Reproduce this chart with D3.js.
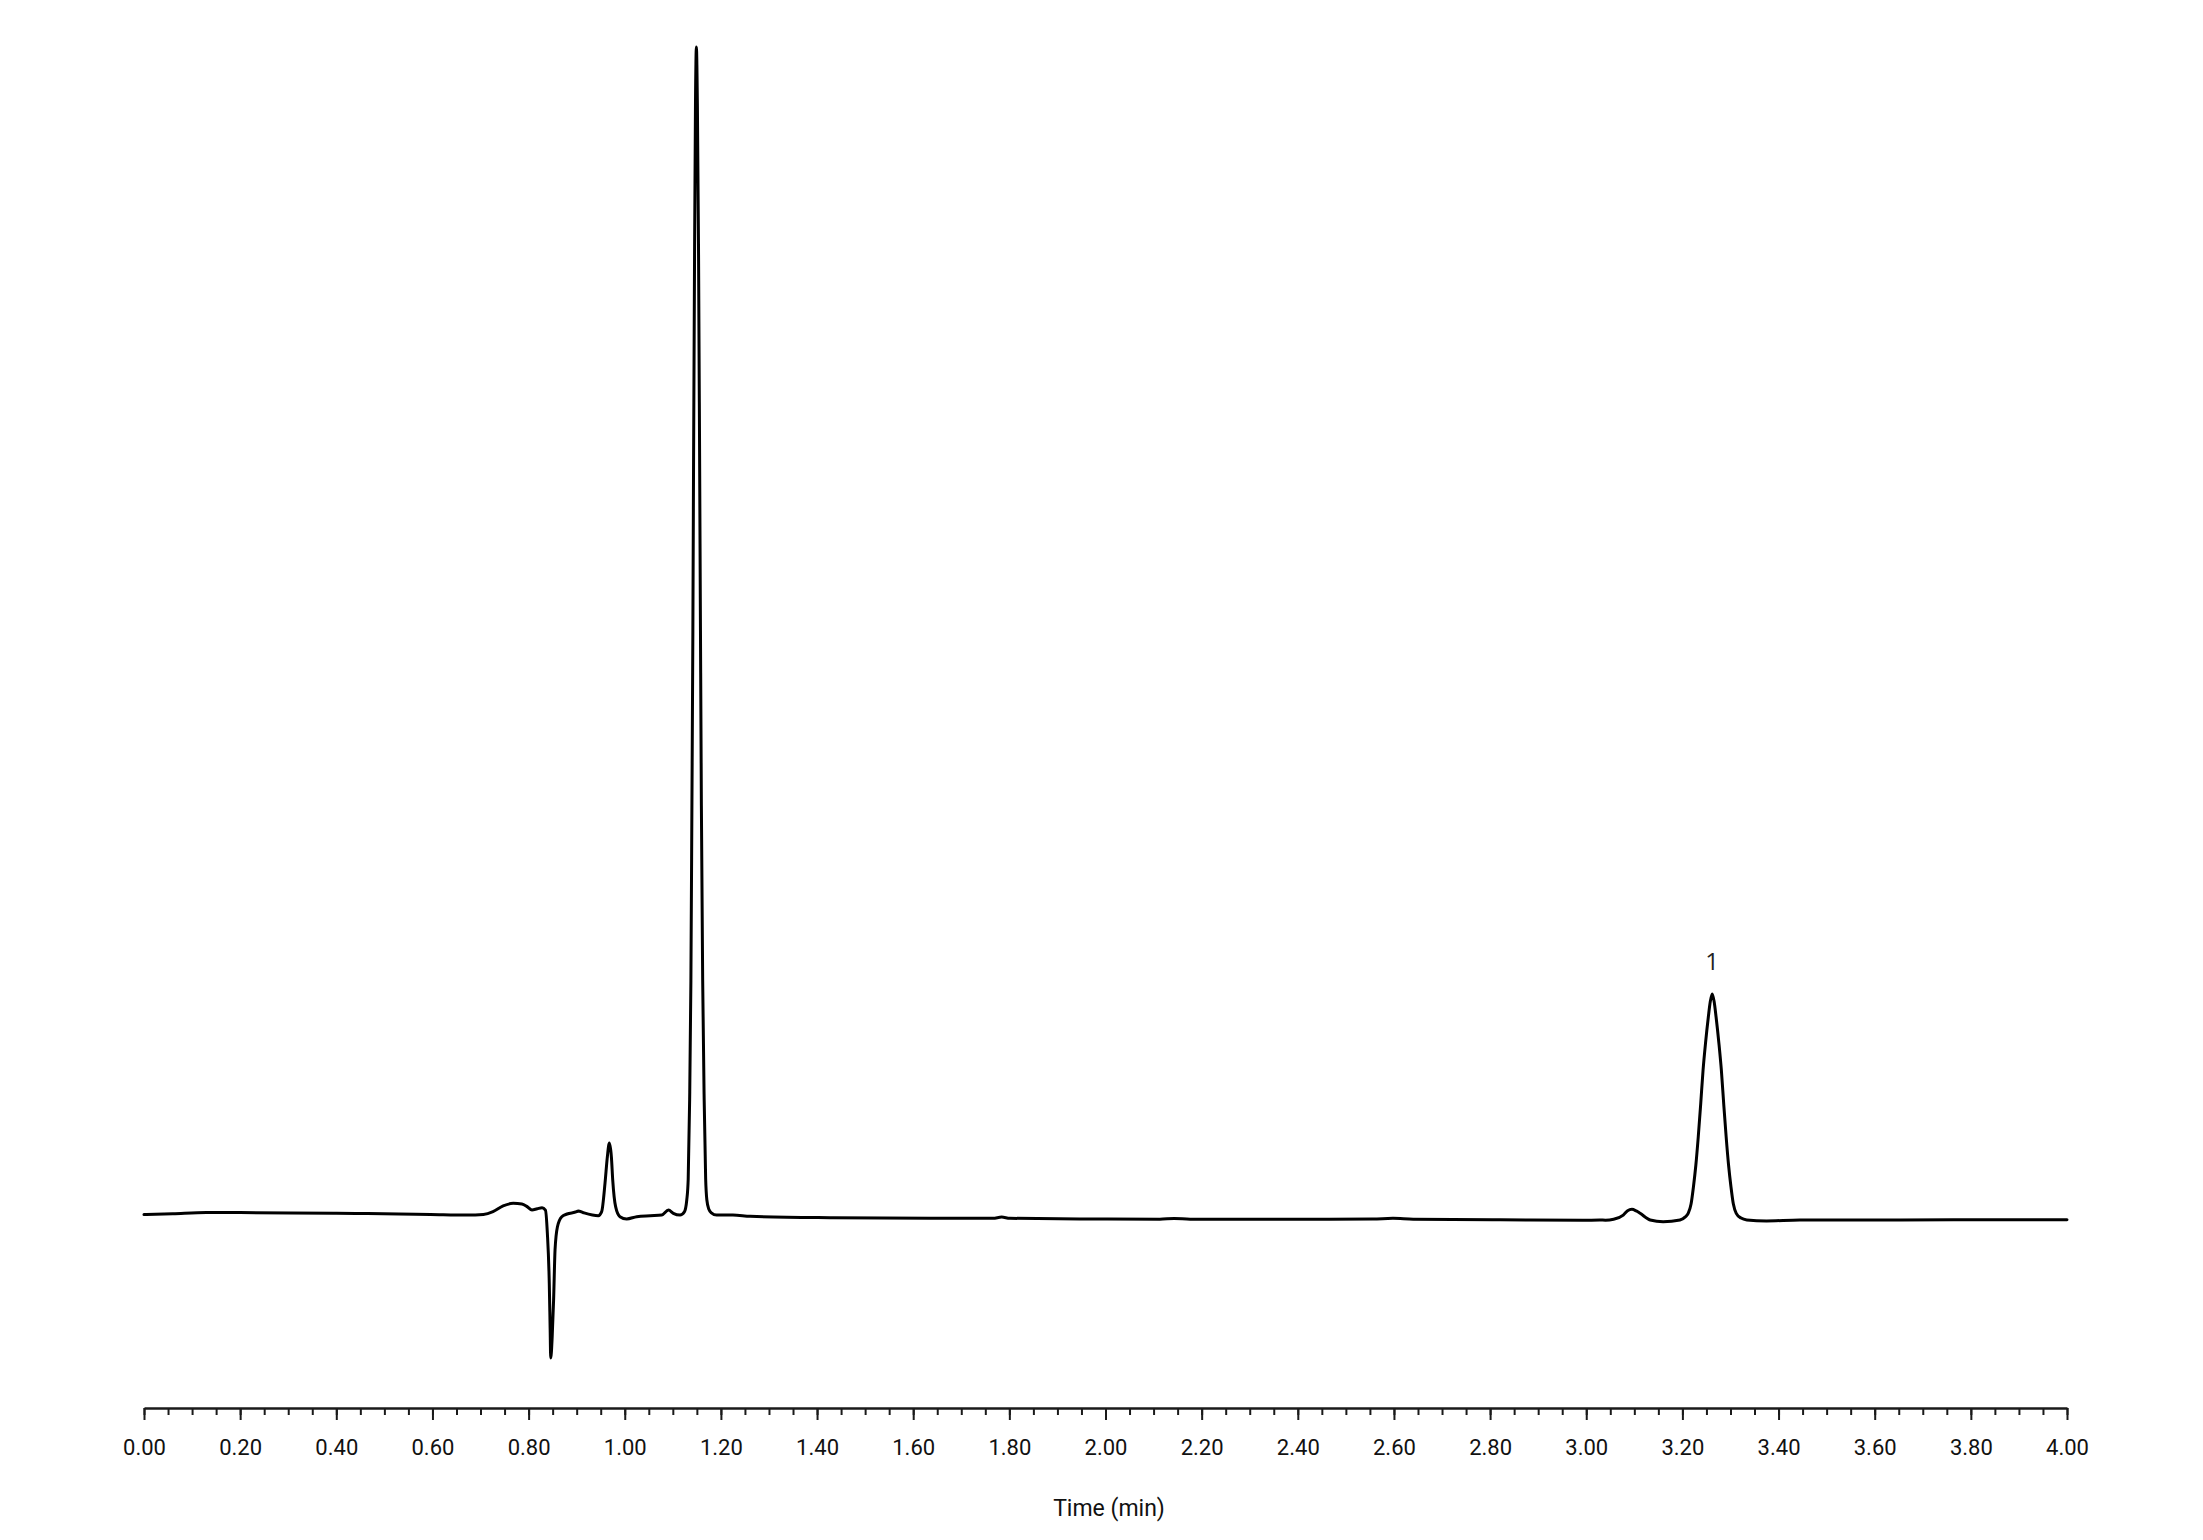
<!DOCTYPE html>
<html>
<head>
<meta charset="utf-8">
<script src="https://cdn.jsdelivr.net/npm/d3@7"></script>
<style>
  html, body { margin: 0; padding: 0; background: #fff; }
  svg { display: block; }
</style>
</head>
<body>
<script>
// ---- Data: [retention time (min), detector signal (relative units)] ----
const baselineStart = [
  [0.000,-0.05],[0.060,0.03],[0.130,0.13],[0.200,0.12],[0.305,0.09],[0.400,0.06],
  [0.465,0.04],[0.530,0.00],[0.596,-0.04],[0.672,-0.09],[0.706,-0.04]
];
const voidRegion = [
  [0.726,0.20],[0.747,0.69],[0.768,0.92],[0.786,0.86],[0.797,0.63],[0.807,0.34],
  [0.818,0.45],[0.828,0.54],[0.835,0.34],[0.839,-1.63],[0.843,-5.91],[0.8448,-9.8],
  [0.846,-12.34],[0.849,-10.6],[0.852,-7.37],[0.855,-3.08],[0.860,-1.09],[0.869,-0.23],
  [0.880,0.00],[0.900,0.20],[0.903,0.26],[0.914,0.11],[0.945,-0.15],[0.952,0.20],
  [0.959,2.66],[0.9638,4.9],[0.968,6.08],[0.9722,4.9],[0.975,2.91],[0.981,0.63],
  [0.990,-0.23],[1.004,-0.43],[1.025,-0.23],[1.053,-0.15],[1.077,-0.09],[1.091,0.34],
  [1.101,0.06],[1.115,-0.09],[1.124,0.18]
];
const mainPeak = [
  [1.1290,1.2],[1.1320,3.0],[1.1350,9.8],[1.1376,20],[1.1397,35],[1.1417,50],
  [1.1432,65],[1.1453,83],[1.1471,95],[1.1490,100],[1.1511,95],[1.1534,83],
  [1.1557,65],[1.1575,50],[1.1594,35],[1.1621,20],[1.1652,9.8],[1.1683,3.0],
  [1.1708,1.2],[1.1750,0.4],[1.1802,0.1]
];
const midBaseline = [
  [1.191,-0.09],[1.225,-0.09],[1.261,-0.20],[1.433,-0.32],[1.641,-0.37],[1.766,-0.37],
  [1.784,-0.26],[1.801,-0.37],[1.989,-0.43],[2.113,-0.45],[2.143,-0.38],[2.176,-0.45],
  [2.197,-0.45],[2.405,-0.45],[2.556,-0.43],[2.598,-0.37],[2.640,-0.45],[2.821,-0.49],
  [2.993,-0.54],[3.028,-0.51]
];
const peak1Region = [
  [3.040,-0.53],[3.057,-0.45],[3.077,-0.09],[3.086,0.28],[3.095,0.40],[3.104,0.26],
  [3.112,0.06],[3.133,-0.51],[3.160,-0.66],[3.195,-0.51],[3.206,-0.25],[3.212,0.06],
  [3.218,0.85],[3.223,2.34],[3.228,4.2],[3.233,6.62],[3.238,9.4],[3.243,12.34],
  [3.248,14.6],[3.254,16.9],[3.258,18.2],[3.262,18.85],[3.266,18.2],[3.270,16.9],
  [3.276,14.6],[3.281,12.34],[3.286,9.4],[3.291,6.62],[3.296,4.2],[3.301,2.34],
  [3.306,0.85],[3.312,0.06],[3.322,-0.35],[3.334,-0.51],[3.375,-0.60],[3.444,-0.51],
  [3.653,-0.51],[3.861,-0.49],[4.000,-0.50]
];
const peakLabels = [{ label: "1", time: 3.262, signal: 18.85 }];
const majorTicks = [0.0,0.2,0.4,0.6,0.8,1.0,1.2,1.4,1.6,1.8,2.0,2.2,2.4,2.6,2.8,3.0,3.2,3.4,3.6,3.8,4.0];
const xTitle = "Time (min)";

// ---- Layout ----
const W = 2203, H = 1540;
const trace = [].concat(baselineStart, voidRegion, mainPeak, midBaseline, peak1Region);

const x = d3.scaleLinear().domain([0, 4]).range([144, 2067]);
const y = d3.scaleLinear().domain([0, 100]).range([1214, 47]);
const axisY = 1408;

const svg = d3.select("body").append("svg")
  .attr("width", W).attr("height", H)
  .attr("viewBox", `0 0 ${W} ${H}`);

svg.append("rect").attr("width", W).attr("height", H).attr("fill", "#fff");

// trace
const line = d3.line()
  .x(d => x(d[0]))
  .y(d => y(d[1]))
  .curve(d3.curveMonotoneX);

svg.append("path")
  .datum(trace)
  .attr("d", line)
  .attr("fill", "none")
  .attr("stroke", "#000")
  .attr("stroke-width", 3)
  .attr("stroke-linejoin", "round")
  .attr("stroke-linecap", "round");

// minor ticks
const minorTicks = d3.range(0, 4.0001, 0.05).map(v => +v.toFixed(2));
svg.append("g")
  .attr("transform", `translate(0,${axisY})`)
  .call(d3.axisBottom(x).tickValues(minorTicks).tickSize(7).tickSizeOuter(0).tickFormat(""))
  .call(g => g.selectAll("line").attr("stroke", "#1a1a1a").attr("stroke-width", 2))
  .call(g => g.select(".domain").remove());

// major ticks + labels
svg.append("g")
  .attr("transform", `translate(0,${axisY})`)
  .call(d3.axisBottom(x).tickValues(majorTicks).tickSize(12).tickSizeOuter(0)
        .tickPadding(19).tickFormat(d3.format(".2f")))
  .call(g => g.select(".domain").attr("stroke", "#1a1a1a").attr("stroke-width", 2.4))
  .call(g => g.selectAll(".tick line").attr("stroke", "#1a1a1a").attr("stroke-width", 2))
  .call(g => g.selectAll("text")
        .attr("fill", "#111")
        .style("font-family", "Roboto, 'Liberation Sans', sans-serif")
        .style("font-size", "22px"));

// axis title
svg.append("text")
  .attr("x", 1109).attr("y", 1516)
  .attr("text-anchor", "middle")
  .attr("fill", "#111")
  .style("font-family", "Roboto, 'Liberation Sans', sans-serif")
  .style("font-size", "23px")
  .text(xTitle);

// peak labels
svg.selectAll("text.peak")
  .data(peakLabels)
  .enter().append("text")
  .attr("class", "peak")
  .attr("x", d => x(d.time))
  .attr("y", d => y(d.signal) - 24)
  .attr("text-anchor", "middle")
  .attr("fill", "#222")
  .style("font-family", "'Open Sans', 'DejaVu Sans', sans-serif")
  .style("font-size", "24px")
  .text(d => d.label);
</script>
</body>
</html>
